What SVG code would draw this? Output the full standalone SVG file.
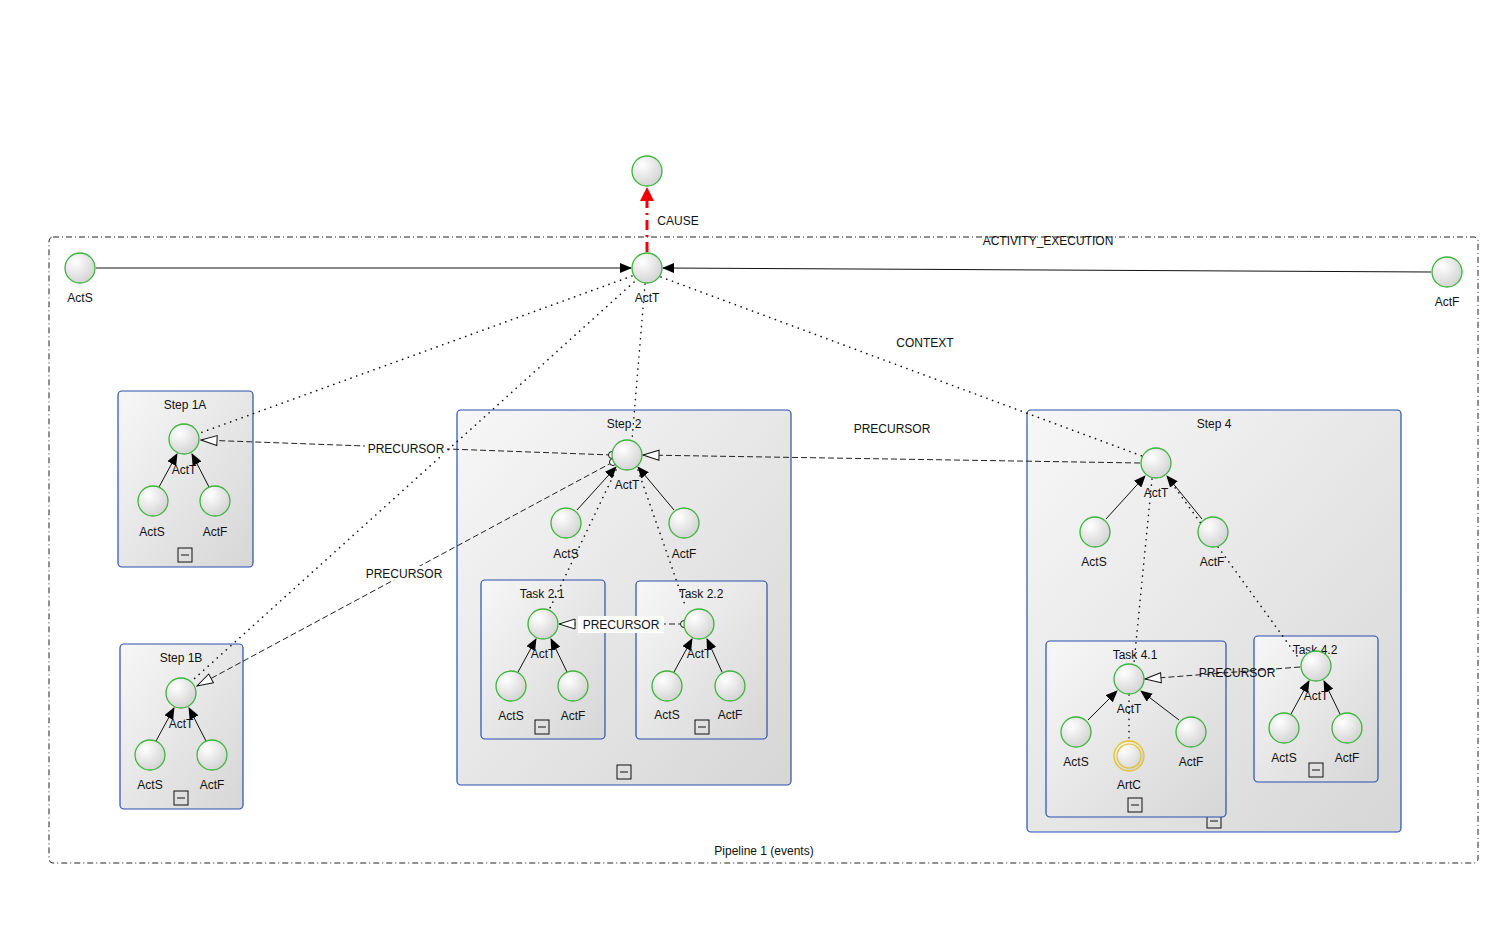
<svg xmlns="http://www.w3.org/2000/svg" width="1489" height="952" viewBox="0 0 1489 952">
<style>
text{font-family:"Liberation Sans",Arial,sans-serif;font-size:12px;fill:#111;text-anchor:middle}
.n{fill:url(#g);stroke:#3cb43c;stroke-width:1.3}
.box{fill:url(#bg);stroke:#2a4fb0;stroke-width:1.2}
.c{fill:none;stroke:#111;stroke-width:1}
.sol{stroke:#111;stroke-width:1;fill:none;marker-end:url(#fa)}
.dot{stroke:#111;stroke-width:1.6;fill:none;stroke-dasharray:0.1 6;stroke-linecap:round}
.dash{stroke:#222;stroke-width:1;fill:none;stroke-dasharray:6 3;marker-end:url(#ha)}
.lb{fill:#fff}
</style>
<defs>
<radialGradient id="g" cx="0.35" cy="0.3" r="0.8"><stop offset="0" stop-color="#fff"/><stop offset="1" stop-color="#cfcfcf"/></radialGradient>
<linearGradient id="bg" x1="0" y1="0" x2="1" y2="1"><stop offset="0" stop-color="#f7f7f7"/><stop offset="1" stop-color="#d6d6d6"/></linearGradient>
<marker id="fa" markerWidth="12" markerHeight="10" refX="11" refY="5" orient="auto" markerUnits="userSpaceOnUse"><path d="M0,0 L12,5 L0,10 Z" fill="#000"/></marker>
<marker id="ha" markerWidth="18" markerHeight="12" refX="17" refY="6" orient="auto" markerUnits="userSpaceOnUse"><path d="M1,1 L17,6 L1,11 Z" fill="#fff" stroke="#111"/></marker>
<marker id="ra" markerWidth="14" markerHeight="14" refX="13" refY="7" orient="auto" markerUnits="userSpaceOnUse"><path d="M0,0 L14,7 L0,14 Z" fill="#e00"/></marker>
</defs>
<rect width="1489" height="952" fill="#fff"/>
<g id="pipeline">
<rect x="49" y="237" width="1429" height="626" rx="4" fill="none" stroke="#222" stroke-dasharray="6 3 1 3"/>
<text x="1048" y="245">ACTIVITY_EXECUTION</text>
<text x="764" y="855">Pipeline 1 (events)</text>
</g>
<g id="step1a"><rect class="box" x="118" y="391" width="135" height="176" rx="4"/><text x="185" y="409">Step 1A</text><rect class="c" x="178" y="548" width="14" height="14"/><line x1="181" y1="555" x2="189" y2="555" stroke="#111"/></g>
<g id="step1b"><rect class="box" x="120" y="644" width="123" height="165" rx="4"/><text x="181" y="662">Step 1B</text><rect class="c" x="174" y="791" width="14" height="14"/><line x1="177" y1="798" x2="185" y2="798" stroke="#111"/></g>
<g id="step2"><rect class="box" x="457" y="410" width="334" height="375" rx="4"/><text x="624" y="428">Step 2</text><rect class="c" x="617" y="765" width="14" height="14"/><line x1="620" y1="772" x2="628" y2="772" stroke="#111"/></g>
<g id="task21"><rect class="box" x="481" y="580" width="124" height="159" rx="4"/><text x="542" y="598">Task 2.1</text><rect class="c" x="535" y="720" width="14" height="14"/><line x1="538" y1="727" x2="546" y2="727" stroke="#111"/></g>
<g id="task22"><rect class="box" x="636" y="581" width="131" height="158" rx="4"/><text x="701" y="598">Task 2.2</text><rect class="c" x="695" y="720" width="14" height="14"/><line x1="698" y1="727" x2="706" y2="727" stroke="#111"/></g>
<g id="step4"><rect class="box" x="1027" y="410" width="374" height="422" rx="4"/><text x="1214" y="428">Step 4</text><rect class="c" x="1207" y="814" width="14" height="14"/><line x1="1210" y1="821" x2="1218" y2="821" stroke="#111"/></g>
<g id="task41"><rect class="box" x="1046" y="641" width="180" height="176" rx="4"/><text x="1135" y="659">Task 4.1</text><rect class="c" x="1128" y="798" width="14" height="14"/><line x1="1131" y1="805" x2="1139" y2="805" stroke="#111"/></g>
<g id="task42"><rect class="box" x="1254" y="636" width="124" height="146" rx="4"/><text x="1315" y="654">Task 4.2</text><rect class="c" x="1309" y="763" width="14" height="14"/><line x1="1312" y1="770" x2="1320" y2="770" stroke="#111"/></g>

<g id="connectors">
<line x1="647" y1="252" x2="647" y2="188" stroke="#e00" stroke-width="3" stroke-dasharray="10 5 2 5" marker-end="url(#ra)"/>
<text x="678" y="225">CAUSE</text>
<line class="sol" x1="96" y1="268" x2="631" y2="268"/>
<line class="sol" x1="1431" y1="272" x2="663" y2="268"/>
<line class="dot" x1="632" y1="276" x2="200" y2="433"/>
<line class="dot" x1="634" y1="282" x2="194" y2="679"/>
<line class="dot" x1="645" y1="284" x2="632" y2="440"/>
<line class="dot" x1="661" y1="277" x2="1142" y2="456"/>
<text x="925" y="347">CONTEXT</text>
<line class="dash" x1="612" y1="455" x2="201" y2="440"/>
<circle cx="612" cy="455" r="3.5" fill="#fff" stroke="#111"/>
<rect class="lb" x="365" y="441" width="82" height="14"/><text x="406" y="453">PRECURSOR</text>
<line class="dash" x1="613" y1="462" x2="197" y2="686"/>
<circle cx="613" cy="462" r="3.5" fill="#fff" stroke="#111"/>
<rect class="lb" x="363" y="566" width="82" height="14"/><text x="404" y="578">PRECURSOR</text>
<line class="dash" x1="1140" y1="463" x2="643" y2="455"/>
<text x="892" y="433">PRECURSOR</text>
<line class="dash" x1="684" y1="624" x2="559" y2="624"/>
<circle cx="684" cy="624" r="3.5" fill="#fff" stroke="#111"/>
<rect class="lb" x="578" y="616" width="86" height="17"/><text x="621" y="629">PRECURSOR</text>
<line class="dash" x1="1300" y1="667" x2="1145" y2="679"/>
<text x="1237" y="677">PRECURSOR</text>
<line class="dot" x1="616" y1="470" x2="550" y2="608"/>
<line class="dot" x1="638" y1="470" x2="686" y2="608"/>
<line class="dot" x1="1152" y1="479" x2="1134" y2="663"/>
<line class="dot" x1="1168" y1="478" x2="1300" y2="660"/>
<line class="dot" x1="1129" y1="695" x2="1129" y2="740"/>
<line class="sol" x1="159" y1="487" x2="177" y2="454"/>
<line class="sol" x1="209" y1="487" x2="192" y2="454"/>
<line class="sol" x1="156" y1="741" x2="174" y2="708"/>
<line class="sol" x1="206" y1="741" x2="189" y2="708"/>
<line class="sol" x1="577" y1="510" x2="616" y2="467"/>
<line class="sol" x1="674" y1="510" x2="638" y2="467"/>
<line class="sol" x1="518" y1="672" x2="536" y2="639"/>
<line class="sol" x1="567" y1="672" x2="551" y2="639"/>
<line class="sol" x1="674" y1="672" x2="692" y2="639"/>
<line class="sol" x1="722" y1="672" x2="707" y2="639"/>
<line class="sol" x1="1106" y1="519" x2="1145" y2="476"/>
<line class="sol" x1="1202" y1="519" x2="1167" y2="476"/>
<line class="sol" x1="1088" y1="720" x2="1117" y2="691"/>
<line class="sol" x1="1179" y1="720" x2="1141" y2="691"/>
<line class="sol" x1="1291" y1="714" x2="1309" y2="681"/>
<line class="sol" x1="1340" y1="714" x2="1324" y2="681"/>
</g>

<g id="n-top"><circle class="n" cx="647" cy="171" r="15"/></g>
<g id="n-acts"><circle class="n" cx="80" cy="268" r="15"/><text x="80" y="302">ActS</text></g>
<g id="n-actt"><circle class="n" cx="647" cy="268" r="15"/><text x="647" y="302">ActT</text></g>
<g id="n-actf"><circle class="n" cx="1447" cy="272" r="15"/><text x="1447" y="306">ActF</text></g>
<g id="n-1a"><circle class="n" cx="184" cy="439" r="15"/><text x="184" y="474">ActT</text><circle class="n" cx="153" cy="501" r="15"/><text x="152" y="536">ActS</text><circle class="n" cx="215" cy="501" r="15"/><text x="215" y="536">ActF</text></g>
<g id="n-1b"><circle class="n" cx="181" cy="693" r="15"/><text x="181" y="728">ActT</text><circle class="n" cx="150" cy="755" r="15"/><text x="150" y="789">ActS</text><circle class="n" cx="212" cy="755" r="15"/><text x="212" y="789">ActF</text></g>
<g id="n-2"><circle class="n" cx="627" cy="455" r="15"/><text x="627" y="489">ActT</text><circle class="n" cx="566" cy="523" r="15"/><text x="566" y="558">ActS</text><circle class="n" cx="684" cy="523" r="15"/><text x="684" y="558">ActF</text></g>
<g id="n-21"><circle class="n" cx="543" cy="624" r="15"/><text x="543" y="658">ActT</text><circle class="n" cx="511" cy="686" r="15"/><text x="511" y="720">ActS</text><circle class="n" cx="573" cy="686" r="15"/><text x="573" y="720">ActF</text></g>
<g id="n-22"><circle class="n" cx="699" cy="624" r="15"/><text x="699" y="658">ActT</text><circle class="n" cx="667" cy="686" r="15"/><text x="667" y="719">ActS</text><circle class="n" cx="730" cy="686" r="15"/><text x="730" y="719">ActF</text></g>
<g id="n-4"><circle class="n" cx="1156" cy="463" r="15"/><text x="1156" y="497">ActT</text><circle class="n" cx="1095" cy="532" r="15"/><text x="1094" y="566">ActS</text><circle class="n" cx="1213" cy="532" r="15"/><text x="1212" y="566">ActF</text></g>
<g id="n-41"><circle class="n" cx="1129" cy="679" r="15"/><text x="1129" y="713">ActT</text><circle class="n" cx="1076" cy="732" r="15"/><text x="1076" y="766">ActS</text><circle class="n" cx="1191" cy="732" r="15"/><text x="1191" y="766">ActF</text>
<circle cx="1129" cy="756" r="15" fill="url(#g)" stroke="#e8c020" stroke-width="1.3"/><circle cx="1129" cy="756" r="12" fill="none" stroke="#e8c020" stroke-width="1.2"/><text x="1129" y="789">ArtC</text></g>
<g id="n-42"><circle class="n" cx="1316" cy="666" r="15"/><text x="1316" y="700">ActT</text><circle class="n" cx="1284" cy="728" r="15"/><text x="1284" y="762">ActS</text><circle class="n" cx="1347" cy="728" r="15"/><text x="1347" y="762">ActF</text></g>
</svg>
